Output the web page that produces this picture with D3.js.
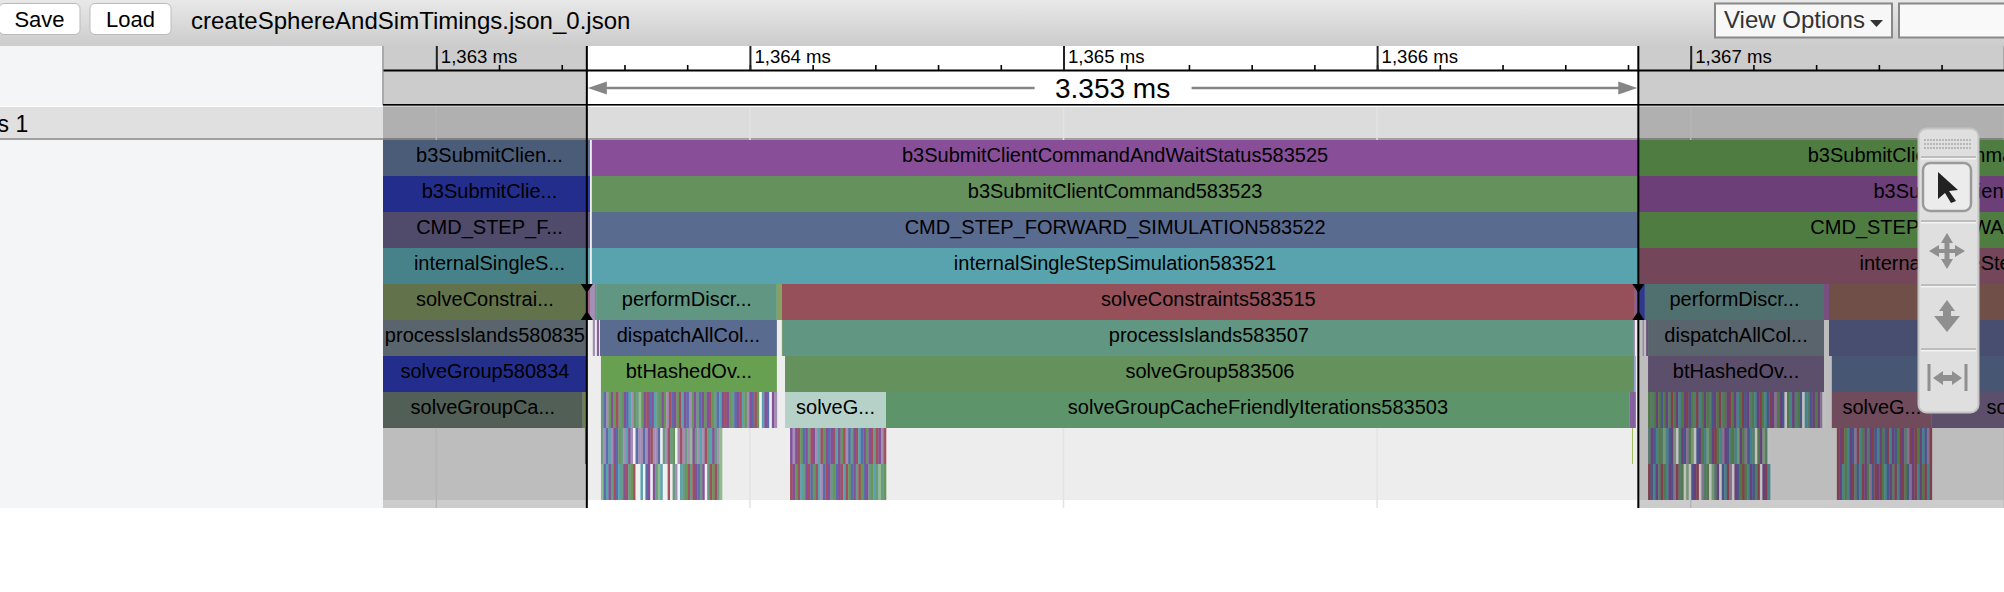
<!DOCTYPE html>
<html><head><meta charset="utf-8">
<script src="https://cdn.jsdelivr.net/npm/d3@7/dist/d3.min.js"></script>
<style>html,body{margin:0;padding:0;background:#fff;overflow:hidden}svg{display:block}text{font-family:"Liberation Sans",Arial,sans-serif;fill:#000}</style>
</head><body><div id="chart"></div>
<script>
const fileTitle = "createSphereAndSimTimings.json_0.json";
const trackTitle = "Process 1";
const majorTicks = [1363,1364,1365,1366,1367,1368];
const selectionStart = 1363.48;
const selectionDuration = 3.353;

// Flame-chart slices, one entry per slice (parallel arrays, times in ms)
const sliceNames = [
 "b3SubmitClien...","b3SubmitClientCommandAndWaitStatus583525","b3SubmitClientCommandAndWaitStatus584525",
 "b3SubmitClie...","b3SubmitClientCommand583523","b3SubmitClientCommand584523",
 "CMD_STEP_F...","CMD_STEP_FORWARD_SIMULATION583522","CMD_STEP_FORWARD_SIMULATION584522",
 "internalSingleS...","internalSingleStepSimulation583521","internalSingleStepSimulation584521",
 "solveConstrai...","","","","performDiscr...","","solveConstraints583515","","","performDiscr...","","solveConstraints584515",
 "processIslands580835","","","dispatchAllCol...","","processIslands583507","","","","dispatchAllCol...","",
 "solveGroup580834","btHashedOv...","solveGroup583506","","btHashedOv...","solveGroup584506",
 "solveGroupCa...","","solveG...","solveGroupCacheFriendlyIterations583503","","solveG...","solveGroupCacheFriendlyIterations584503",
 "","" ];
const sliceRows = [
 0,0,0, 1,1,1, 2,2,2, 3,3,3,
 4,4,4,4,4,4,4,4,4,4,4,4,
 5,5,5,5,5,5,5,5,5,5,5,
 6,6,6,6,6,6,
 7,7,7,7,7,7,7,
 8,8 ];
const sliceStarts = [
 1362.83,1363.496,1366.835, 1362.83,1363.496,1366.835, 1362.83,1363.496,1366.835, 1362.83,1363.496,1366.835,
 1362.83,1363.48,1363.49,1363.506,1363.512,1364.086,1364.102,1366.822,1366.835,1366.854,1367.425,1367.441,
 1362.83,1363.499,1363.512,1363.522,1364.102,1364.105,1366.847,1366.858,1366.818,1366.864,1367.441,
 1362.83,1363.525,1364.112,1366.819,1366.864,1367.45,
 1362.83,1363.467,1364.112,1364.434,1366.806,1367.45,1367.769,
 1363.474,1366.813 ];
const sliceEnds = [
 1363.49,1366.833,1369.27, 1363.49,1366.833,1369.27, 1363.49,1366.833,1369.27, 1363.49,1366.833,1369.27,
 1363.48,1363.49,1363.506,1363.512,1364.086,1364.102,1366.822,1366.832,1366.854,1367.425,1367.441,1369.27,
 1363.48,1363.506,1363.519,1364.086,1364.105,1366.822,1366.85,1366.864,1366.822,1367.425,1369.27,
 1363.48,1364.086,1366.822,1366.825,1367.425,1369.27,
 1363.467,1363.48,1364.434,1366.806,1366.825,1367.769,1369.33,
 1363.477,1366.816 ];
const sliceHues = [
 "slate","purple","green", "navy","leaf","purple", "dusk","denim","green", "teal","teal","wine",
 "olive","rose","mauve","sage","sage","moss","red","violet","blue","seal","plum","brown",
 "steel","mauve","violet","denim","leaf","sage","mauve","violet","mauve","steel","indigo",
 "navy","grass","leaf","peri","iris","ocean",
 "fern","moss","pale","jade","violet","rosewood","iris",
 "fern","lime" ];

// Very short slices too thin to name: each letter is one slice, read left to right
const stripeRows = [7,8,9,8,9,7,8,9,8,9];
const stripeStarts = [1363.525,1363.525,1363.525,1364.128,1364.128,1366.864,1366.864,1366.864,1367.466,1367.466];
const stripeEnds = [1364.086,1363.911,1363.911,1364.434,1364.434,1367.428,1367.253,1367.253,1367.769,1367.769];
const stripeSeries = [
 "sbmgpgrsgpbtmgslgprbptsgpgmrbpgrtpbmgpsbpgprgsbtprpgsbprtgmpbrgwtpbwpm",
 "smbtmpbgsmtpmwbmmbmprmmbwsmrsgwmrmsmlpsmtmrstpsml",
 "lbtpsrbtsprsgrwwtwbpwpsltwwrwsmwtsgrsrpbspwsrgrsl",
 "pmprgbpsrpmtrgpbprtpgrmbsprtbpgprsrpmr",
 "rpgrtsprbgrtmbrpsgbprtrgbpsrgbpsgtslsg",
 "gsgpgbgpsrgptgprbgsrtgpgsbpgrsgprgptgrbpsgtprgtbrpmgpbwgtpsgbwtsbpgpmw",
 "spbtgsltbplwspbmglwbpgtlsprgtmpbsgtlpgmbtswgplsw",
 "rbtpsrgtpbmrsgwlwbprwmsgwlspwbtrmwpbgrgtpbsrwprt",
 "rprgtpbmrtgpsprbtpgbrtpbgrpsmrprgptbmr",
 "rptgtprsbtrpgmbrprgtbpsrtprgbmprtpgrtr" ];

const stripeColor = {p:"#83519a",g:"#68965a",r:"#a0505e",b:"#5a6cab",t:"#59a3ae",s:"#6a9a84",m:"#a48fb4",w:"#f0f0f0",l:"#93bb92",n:"#6e7fb8"};
const hueColor = {slate:"#5e7396",purple:"#884f98",green:"#639c52",navy:"#2c3aaf",leaf:"#65915c",dusk:"#655d86",denim:"#5a6b90",teal:"#59a3ae",wine:"#915870",
 olive:"#7b8f5d",rose:"#a0607a",mauve:"#a48fb4",sage:"#619782",moss:"#88a060",red:"#95505a",violet:"#84609f",blue:"#3a48b0",seal:"#648c8b",plum:"#98639f",brown:"#8d635b",
 steel:"#717d87",indigo:"#59628b",grass:"#68a052",peri:"#97a0d0",iris:"#746386",ocean:"#596c8f",fern:"#66776c",pale:"#b6d2c8",jade:"#5e9469",rosewood:"#8d5e73",lime:"#9bbb50"};

const W=2004,H=592,PANEL=383,TOP=46,RULER=70,RULEREND=105,BANDTOP=107,ROWTOP=140,ROWEND=500,BOTTOM=508;
const svg=d3.select("#chart").append("svg").attr("width",W).attr("height",H);
const defs=svg.append("defs");
const hg=defs.append("linearGradient").attr("id","hdr").attr("x1",0).attr("y1",0).attr("x2",0).attr("y2",1);
hg.append("stop").attr("offset","0").attr("stop-color","#e8e8e8");
hg.append("stop").attr("offset","1").attr("stop-color","#cccccc");
defs.append("clipPath").attr("id","clip").append("rect").attr("x",PANEL).attr("y",0).attr("width",W-PANEL).attr("height",H);

const x=d3.scaleLinear().domain([1362.83,1368]).range([PANEL,2004.3]);
const y=d3.scaleBand().domain(d3.range(10)).range([ROWTOP,ROWEND]);

// page background regions
svg.append("rect").attr("x",0).attr("y",TOP).attr("width",PANEL).attr("height",BOTTOM-TOP).attr("fill","#f4f5f7");
svg.append("rect").attr("x",PANEL).attr("y",TOP).attr("width",W-PANEL).attr("height",RULEREND-TOP).attr("fill","#fff");
svg.append("rect").attr("x",0).attr("y",RULEREND+1).attr("width",W).attr("height",1.5).attr("fill","#fff");
svg.append("rect").attr("x",0).attr("y",BANDTOP).attr("width",PANEL).attr("height",ROWTOP-BANDTOP-1).attr("fill","#e0e0e0");
svg.append("rect").attr("x",PANEL).attr("y",BANDTOP).attr("width",W-PANEL).attr("height",ROWTOP-BANDTOP-1).attr("fill","#dcdcdc");
svg.append("rect").attr("x",0).attr("y",ROWTOP-2).attr("width",W).attr("height",2).attr("fill","#a0a0a0");
svg.append("rect").attr("x",PANEL).attr("y",ROWTOP).attr("width",W-PANEL).attr("height",ROWEND-ROWTOP).attr("fill","#ededed");
svg.append("rect").attr("x",PANEL-1).attr("y",TOP).attr("width",1.5).attr("height",RULEREND-TOP).attr("fill","#aaa");

svg.append("text").attr("x",-74).attr("y",132).attr("font-size",23).text(trackTitle);

const plot=svg.append("g").attr("clip-path","url(#clip)");
// grid
plot.selectAll("line.grid").data(majorTicks).join("line").attr("class","grid")
 .attr("x1",d=>x(d)).attr("x2",d=>x(d)).attr("y1",BANDTOP).attr("y2",BOTTOM).attr("stroke","#e3e3e3").attr("stroke-width",1.5);

// stripes
stripeSeries.forEach((s,i)=>{
  const b=d3.scaleBand().domain(d3.range(s.length)).range([x(stripeStarts[i]),x(stripeEnds[i])]);
  plot.append("g").selectAll("rect").data(Array.from(s)).join("rect")
   .attr("x",(d,k)=>b(k)).attr("y",y(stripeRows[i])).attr("width",b.bandwidth()+.3).attr("height",y.bandwidth())
   .attr("fill",d=>stripeColor[d]);
});
// slices
const slices=sliceNames.map((name,i)=>({name,row:sliceRows[i],start:sliceStarts[i],end:sliceEnds[i],hue:sliceHues[i]}));
plot.append("g").selectAll("rect").data(slices).join("rect")
 .attr("x",d=>x(d.start)).attr("y",d=>y(d.row)).attr("width",d=>x(d.end)-x(d.start)).attr("height",y.bandwidth())
 .attr("fill",d=>hueColor[d.hue]);
plot.append("g").selectAll("text").data(slices.filter(d=>d.name)).join("text")
 .attr("x",d=>(x(d.start)+x(d.end))/2+(d.row<4&&d.start<=x.domain()[0]?3:0)).attr("y",d=>y(d.row)+y.bandwidth()/2-3).attr("dy","0.36em")
 .attr("text-anchor","middle").attr("font-size",20).text(d=>d.name);

// dim regions outside selection
const selEnd=selectionStart+selectionDuration;
svg.append("rect").attr("x",PANEL).attr("y",TOP).attr("width",x(selectionStart)-PANEL).attr("height",BOTTOM-TOP).attr("fill","rgba(0,0,0,.2)");
svg.append("rect").attr("x",x(selEnd)).attr("y",TOP).attr("width",W-x(selEnd)).attr("height",BOTTOM-TOP).attr("fill","rgba(0,0,0,.2)");

// ruler
const rulerClip=svg.append("g").attr("clip-path","url(#clip)");
const ruler=rulerClip.append("g").attr("transform",`translate(0,${RULER})`);
const minor=ruler.append("g").call(d3.axisTop(x).ticks(25).tickSize(5).tickSizeOuter(0).tickFormat(""));
minor.selectAll("line").attr("stroke","#000").attr("stroke-width",1.6);
minor.select(".domain").attr("stroke","#000").attr("stroke-width",2.2);
const major=ruler.append("g").call(d3.axisTop(x).tickValues(majorTicks).tickSize(RULER-TOP).tickSizeOuter(0).tickFormat(d=>d3.format(",")(d)+" ms"));
major.select(".domain").remove();
major.selectAll("line").attr("stroke","#222").attr("stroke-width",2);
major.selectAll("text").attr("text-anchor","start").attr("x",4).attr("y",-7).attr("dy",0).attr("font-size",18.6).attr("font-family","Liberation Sans").attr("fill","#111");
svg.append("rect").attr("x",PANEL).attr("y",RULEREND-1).attr("width",W-PANEL).attr("height",1.6).attr("fill","#000");

// selection lines and markers
[selectionStart,selEnd].forEach(t=>{
  const px=x(t);
  svg.append("line").attr("x1",px).attr("x2",px).attr("y1",TOP).attr("y2",BOTTOM).attr("stroke","#000").attr("stroke-width",2);
  svg.append("path").attr("d",d3.line()([[px-6,y(4)],[px+6,y(4)],[px,y(4)+9]])+"Z").attr("fill","#000");
  svg.append("path").attr("d",d3.line()([[px-6,y(5)],[px+6,y(5)],[px,y(5)-9]])+"Z").attr("fill","#000");
});
// duration arrow
const a0=x(selectionStart),a1=x(selEnd),ay=88,mid=(a0+a1)/2,gap=78;
const arrowC="#858585";
svg.append("line").attr("x1",a0+10).attr("x2",mid-gap).attr("y1",ay).attr("y2",ay).attr("stroke",arrowC).attr("stroke-width",2.4);
svg.append("line").attr("x1",mid+gap+1).attr("x2",a1-10).attr("y1",ay).attr("y2",ay).attr("stroke",arrowC).attr("stroke-width",2.4);
svg.append("path").attr("d",d3.line()([[a0+1,ay],[a0+20,ay-6.5],[a0+20,ay+6.5]])+"Z").attr("fill",arrowC);
svg.append("path").attr("d",d3.line()([[a1-1,ay],[a1-20,ay-6.5],[a1-20,ay+6.5]])+"Z").attr("fill",arrowC);
svg.append("text").attr("x",mid).attr("y",ay).attr("dy","0.36em").attr("text-anchor","middle").attr("font-size",28).text(d3.format(".3f")(selectionDuration)+" ms");

// header
svg.append("rect").attr("x",0).attr("y",0).attr("width",W).attr("height",TOP).attr("fill","url(#hdr)");
function btn(bx,w,label){
  svg.append("rect").attr("x",bx).attr("y",3.5).attr("width",w).attr("height",31).attr("rx",5).attr("fill","#fff").attr("stroke","#bbb");
  svg.append("text").attr("x",bx+w/2).attr("y",19.5).attr("dy","0.36em").attr("text-anchor","middle").attr("font-size",22).text(label);
}
btn(-1,81,"Save");btn(90,81,"Load");
svg.append("text").attr("x",191).attr("y",20).attr("dy","0.36em").attr("font-size",24).text(fileTitle);
svg.append("rect").attr("x",1715).attr("y",3.5).attr("width",177).attr("height",34).attr("fill","#f7f7f7").attr("stroke","#888").attr("stroke-width",2);
svg.append("text").attr("x",1724).attr("y",19).attr("dy","0.36em").attr("font-size",24).style("fill","#333").text("View Options");
svg.append("path").attr("d","M1870,20L1883,20L1876.5,27Z").attr("fill","#333");
svg.append("rect").attr("x",1899).attr("y",3.5).attr("width",110).attr("height",34).attr("fill","#f9f9f9").attr("stroke","#888").attr("stroke-width",2);

// mouse tool palette
const tool=svg.append("g");
tool.append("rect").attr("x",1918.5).attr("y",128.5).attr("width",60).attr("height",284).attr("rx",8).attr("fill","#dfdfdf").attr("stroke","#c4c4c4").attr("stroke-width",2);
[140,144,148].forEach(v=>tool.append("line").attr("x1",1924).attr("x2",1971).attr("y1",v).attr("y2",v).attr("stroke","#aaa").attr("stroke-width",1.5).attr("stroke-dasharray","2 1"));
[157,221,285,349].forEach(v=>{
  tool.append("rect").attr("x",1921).attr("y",v-1).attr("width",55).attr("height",2).attr("fill","#bdbdbd");
  tool.append("rect").attr("x",1921).attr("y",v+1).attr("width",55).attr("height",1.5).attr("fill","#f2f2f2");
});
tool.append("rect").attr("x",1923).attr("y",163).attr("width",48).attr("height",48).attr("rx",7).attr("fill","#ececec").attr("stroke","#9a9a9a").attr("stroke-width",2.5);
tool.append("path").attr("d","M1938,172L1958,190L1949,191L1956,201L1951,203L1945,193L1938,199Z").attr("fill","#222");
const g1="#8f8f8f";
tool.append("path").attr("fill",g1).attr("d","M1947,233L1953,243L1949.5,243L1949.5,249L1955,249L1955,245L1965,251L1955,257L1955,253L1949.5,253L1949.5,259L1953,259L1947,269L1941,259L1944.5,259L1944.5,253L1939,253L1939,257L1929,251L1939,245L1939,249L1944.5,249L1944.5,243L1941,243Z");
tool.append("path").attr("fill",g1).attr("d","M1947,300L1955,311L1951,311L1951,316L1960,316L1947,332L1934,316L1943,316L1943,311L1939,311Z");
tool.append("path").attr("fill",g1).attr("d","M1927.5,364h3v27h-3ZM1964.5,364h3v27h-3ZM1933,378L1943,371L1943,375L1952,375L1952,371L1962,378L1952,385L1952,381L1943,381L1943,385Z");
</script></body></html>
